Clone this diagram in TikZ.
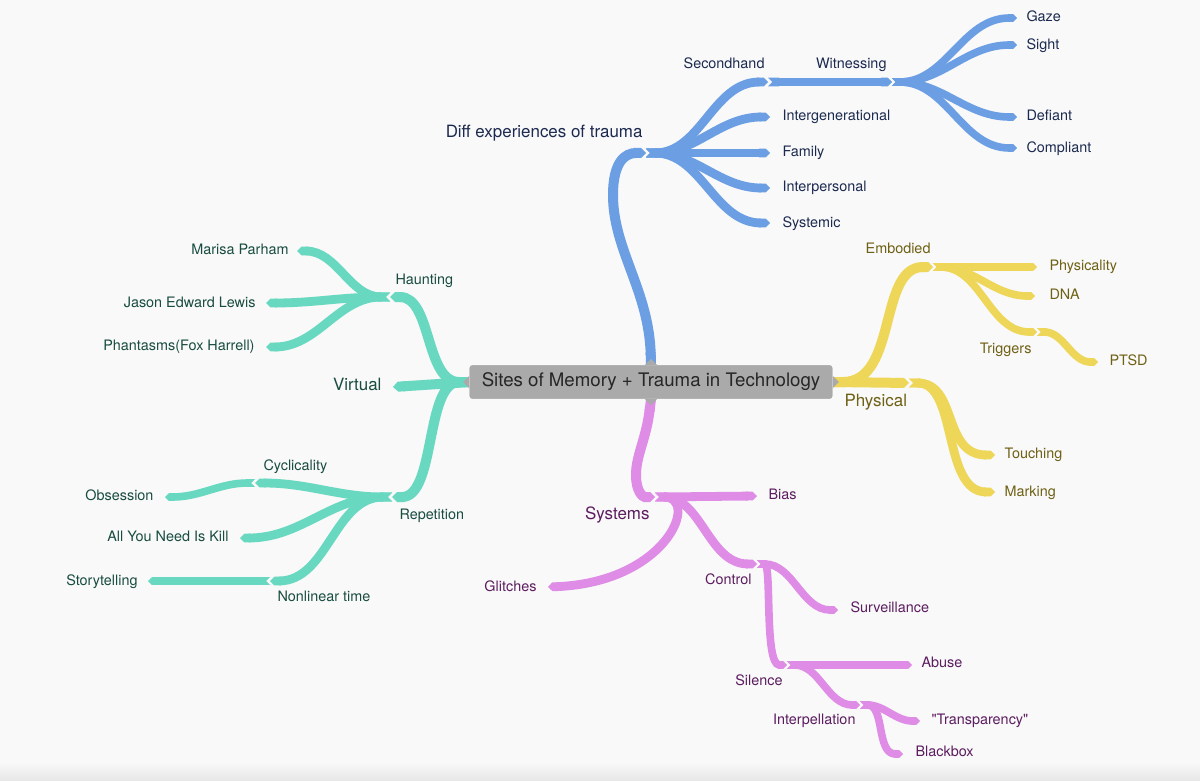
\documentclass[tikz,border=0pt]{standalone}
\usepackage{fontspec}
\setmainfont{TeX Gyre Heros}
\usetikzlibrary{arrows.meta}

\definecolor{bluebr}{RGB}{108,158,228}
\definecolor{yellowbr}{RGB}{238,214,88}
\definecolor{cyanbr}{RGB}{104,216,192}
\definecolor{pinkbr}{RGB}{222,140,230}
\definecolor{bluetxt}{RGB}{28,42,80}
\definecolor{yellowtxt}{RGB}{110,96,20}
\definecolor{cyantxt}{RGB}{24,76,64}
\definecolor{pinktxt}{RGB}{92,28,96}
\definecolor{rootgray}{RGB}{170,170,170}
\definecolor{paper}{RGB}{249,249,249}

\tikzset{every picture/.style={line width=0.75pt}}
\tikzset{
  trunk/.style={line width=7.5pt,{Triangle Cap[reversed]}-{Triangle Cap}},
  bough/.style={line width=6.6pt,{Triangle Cap[reversed]}-{Triangle Cap}},
  twig/.style={line width=5.7pt,{Triangle Cap[reversed]}-{Triangle Cap}},
  lbl/.style={inner sep=0.75pt,text height=1.5ex,text depth=.25ex,font=\fontsize{10.8}{13}\selectfont},
  lvlone/.style={lbl,font=\fontsize{12.7}{15}\selectfont},
  rootbox/.style={fill=rootgray,rounded corners=2pt,minimum width=272pt,minimum height=25pt,
    inner sep=0pt,text=black!85,font=\fontsize{14}{16}\selectfont}
}

\begin{document}
\begin{tikzpicture}[x=0.75pt,y=0.75pt,yscale=-1,xscale=1]
%set diagram from (0,0) to (1200,781)
\useasboundingbox (0,0) rectangle (1200,781);
\fill[paper] (0,0) rectangle (1200,781);
\shade[top color=paper,bottom color=black!10] (0,762) rectangle (1200,781);

%Root
\node[rootbox] (root) at (651,382) {Sites of Memory + Trauma in Technology};

%Branch end points
\coordinate (diff) at (646,153);
\coordinate (second) at (768,82);
\coordinate (witness) at (892,82);
\coordinate (gaze) at (1017,18);
\coordinate (sight) at (1017,45);
\coordinate (defiant) at (1017,117);
\coordinate (compliant) at (1017,148);
\coordinate (interg) at (770,117);
\coordinate (family) at (770,153);
\coordinate (interp) at (770,188);
\coordinate (system) at (770,223);

\coordinate (phys) at (909,383);
\coordinate (embod) at (933,267);
\coordinate (physic) at (1037,267);
\coordinate (dna) at (1035,296);
\coordinate (trig) at (1037,332);
\coordinate (ptsd) at (1098,362);
\coordinate (touch) at (995,455);
\coordinate (mark) at (995,492);

\coordinate (haunt) at (390,297);
\coordinate (virt) at (393,387);
\coordinate (repet) at (392,497);
\coordinate (marisa) at (297,251);
\coordinate (jason) at (266,303);
\coordinate (phant) at (266,347);
\coordinate (cycl) at (255,483);
\coordinate (obsess) at (165,497);
\coordinate (allkill) at (240,538);
\coordinate (nonlin) at (270,581);
\coordinate (story) at (148,581);

\coordinate (sys) at (655,497);
\coordinate (bias) at (757,496);
\coordinate (glitch) at (548,587);
\coordinate (control) at (757,564);
\coordinate (surv) at (838,610);
\coordinate (silence) at (787,665);
\coordinate (abuse) at (912,665);
\coordinate (interpel) at (860,705);
\coordinate (transp) at (920,721);
\coordinate (blackb) at (903,754);

%Blue branch
\draw[trunk,bluebr] (root.north) .. controls (649,290) and (613,250) .. (613,195) .. controls (613,162) and (625,153) .. (diff);
\draw[bough,bluebr] (diff) to[out=0,in=180] (second);
\draw[bough,bluebr] (second) -- (witness);
\draw[twig,bluebr] (witness) to[out=0,in=180] (gaze);
\draw[twig,bluebr] (witness) to[out=0,in=180] (sight);
\draw[twig,bluebr] (witness) to[out=0,in=180] (defiant);
\draw[twig,bluebr] (witness) to[out=0,in=180] (compliant);
\draw[bough,bluebr] (diff) to[out=0,in=180] (interg);
\draw[bough,bluebr] (diff) -- (family);
\draw[bough,bluebr] (diff) to[out=0,in=180] (interp);
\draw[bough,bluebr] (diff) to[out=0,in=180] (system);

%Yellow branch
\draw[trunk,yellowbr] (root.east) -- (phys);
\draw[trunk,yellowbr] (root.east) .. controls (898,382) and (878,267) .. (embod);
\draw[twig,yellowbr] (embod) -- (physic);
\draw[twig,yellowbr] (embod) to[out=0,in=180] (dna);
\draw[twig,yellowbr] (embod) to[out=0,in=180] (trig);
\draw[twig,yellowbr] (trig) to[out=0,in=180] (ptsd);
\draw[bough,yellowbr] (phys) .. controls (958,383) and (942,455) .. (touch);
\draw[bough,yellowbr] (phys) .. controls (958,383) and (942,492) .. (mark);

%Cyan branch
\draw[trunk,cyanbr] (root.west) .. controls (425,382) and (432,297) .. (haunt);
\draw[trunk,cyanbr] (root.west) -- (virt);
\draw[trunk,cyanbr] (root.west) .. controls (425,382) and (436,497) .. (repet);
\draw[bough,cyanbr] (haunt) to[out=180,in=0] (marisa);
\draw[bough,cyanbr] (haunt) to[out=180,in=0] (jason);
\draw[bough,cyanbr] (haunt) to[out=180,in=0] (phant);
\draw[bough,cyanbr] (repet) to[out=180,in=0] (cycl);
\draw[bough,cyanbr] (repet) to[out=180,in=0] (allkill);
\draw[bough,cyanbr] (repet) to[out=180,in=0] (nonlin);
\draw[twig,cyanbr] (cycl) to[out=180,in=0] (obsess);
\draw[twig,cyanbr] (nonlin) -- (story);

%Pink branch
\draw[trunk,pinkbr] (root.south) .. controls (646,440) and (636,455) .. (636,475) .. controls (636,492) and (643,497) .. (sys);
\draw[bough,pinkbr] (sys) -- (bias);
\draw[bough,pinkbr] (sys) .. controls (700,497) and (668,582) .. (glitch);
\draw[bough,pinkbr] (sys) .. controls (702,497) and (708,564) .. (control);
\draw[twig,pinkbr] (control) to[out=0,in=180] (surv);
\draw[twig,pinkbr] (control) .. controls (772,564) and (764,665) .. (silence);
\draw[twig,pinkbr] (silence) -- (abuse);
\draw[twig,pinkbr] (silence) to[out=0,in=180] (interpel);
\draw[twig,pinkbr] (interpel) to[out=0,in=180] (transp);
\draw[twig,pinkbr] (interpel) .. controls (885,705) and (876,754) .. (blackb);

%Root on top, with its pointers
\node[rootbox] (root) at (651,382) {Sites of Memory + Trauma in Technology};
\fill[rootgray] (root.north) ++(-6,0) -- ++(6,-6) -- ++(6,6) -- cycle;
\fill[rootgray] (root.south) ++(-6,0) -- ++(6,6) -- ++(6,-6) -- cycle;
\fill[rootgray] (root.west) ++(0,-6) -- ++(-6,6) -- ++(6,6) -- cycle;
\fill[rootgray] (root.east) ++(0,-6) -- ++(6,6) -- ++(-6,6) -- cycle;

% Text Node
\node[lvlone,text=bluetxt,anchor=east] (diffT) at (644,133) {Diff experiences of trauma};
\node[lbl,text=bluetxt,anchor=east] (secondT) at (766,64) {Secondhand};
\node[lbl,text=bluetxt,anchor=east] (witnessT) at (888,64) {Witnessing};
\node[lbl,text=bluetxt,anchor=west] (gazeT) at (1025,17) {Gaze};
\node[lbl,text=bluetxt,anchor=west] (sightT) at (1025,45) {Sight};
\node[lbl,text=bluetxt,anchor=west] (defiantT) at (1025,116) {Defiant};
\node[lbl,text=bluetxt,anchor=west] (compliantT) at (1025,148) {Compliant};
\node[lbl,text=bluetxt,anchor=west] (intergT) at (781,116) {Intergenerational};
\node[lbl,text=bluetxt,anchor=west] (familyT) at (781,152) {Family};
\node[lbl,text=bluetxt,anchor=west] (interpT) at (781,187) {Interpersonal};
\node[lbl,text=bluetxt,anchor=west] (systemT) at (781,223) {Systemic};
% Text Node
\node[lvlone,text=yellowtxt,anchor=west] (physT) at (843,402) {Physical};
\node[lbl,text=yellowtxt,anchor=east] (embodT) at (932,249) {Embodied};
\node[lbl,text=yellowtxt,anchor=west] (physicT) at (1048,266) {Physicality};
\node[lbl,text=yellowtxt,anchor=west] (dnaT) at (1048,295) {DNA};
\node[lbl,text=yellowtxt,anchor=east] (trigT) at (1033,349) {Triggers};
\node[lbl,text=yellowtxt,anchor=west] (ptsdT) at (1108,361) {PTSD};
\node[lbl,text=yellowtxt,anchor=west] (touchT) at (1003,454) {Touching};
\node[lbl,text=yellowtxt,anchor=west] (markT) at (1003,492) {Marking};
% Text Node
\node[lvlone,text=cyantxt,anchor=east] (virtT) at (383,386) {Virtual};
\node[lbl,text=cyantxt,anchor=west] (hauntT) at (394,280) {Haunting};
\node[lbl,text=cyantxt,anchor=east] (marisaT) at (290,250) {Marisa Parham};
\node[lbl,text=cyantxt,anchor=east] (jasonT) at (257,303) {Jason Edward Lewis};
\node[lbl,text=cyantxt,anchor=east] (phantT) at (256,346) {Phantasms(Fox Harrell)};
\node[lbl,text=cyantxt,anchor=west] (repetT) at (398,515) {Repetition};
\node[lbl,text=cyantxt,anchor=west] (cyclT) at (262,466) {Cyclicality};
\node[lbl,text=cyantxt,anchor=east] (obsessT) at (155,496) {Obsession};
\node[lbl,text=cyantxt,anchor=east] (allkillT) at (230,537) {All You Need Is Kill};
\node[lbl,text=cyantxt,anchor=west] (nonlinT) at (276,597) {Nonlinear time};
\node[lbl,text=cyantxt,anchor=east] (storyT) at (139,581) {Storytelling};
% Text Node
\node[lvlone,text=pinktxt,anchor=east] (sysT) at (651,515) {Systems};
\node[lbl,text=pinktxt,anchor=west] (biasT) at (767,495) {Bias};
\node[lbl,text=pinktxt,anchor=east] (glitchT) at (538,587) {Glitches};
\node[lbl,text=pinktxt,anchor=east] (controlT) at (753,580) {Control};
\node[lbl,text=pinktxt,anchor=west] (survT) at (849,608) {Surveillance};
\node[lbl,text=pinktxt,anchor=east] (silenceT) at (784,681) {Silence};
\node[lbl,text=pinktxt,anchor=west] (abuseT) at (920,663) {Abuse};
\node[lbl,text=pinktxt,anchor=east] (interpelT) at (857,720) {Interpellation};
\node[lbl,text=pinktxt,anchor=west] (transpT) at (930,720) {\textquotedbl Transparency\textquotedbl};
\node[lbl,text=pinktxt,anchor=west] (blackbT) at (914,752) {Blackbox};

\end{tikzpicture}
\end{document}
